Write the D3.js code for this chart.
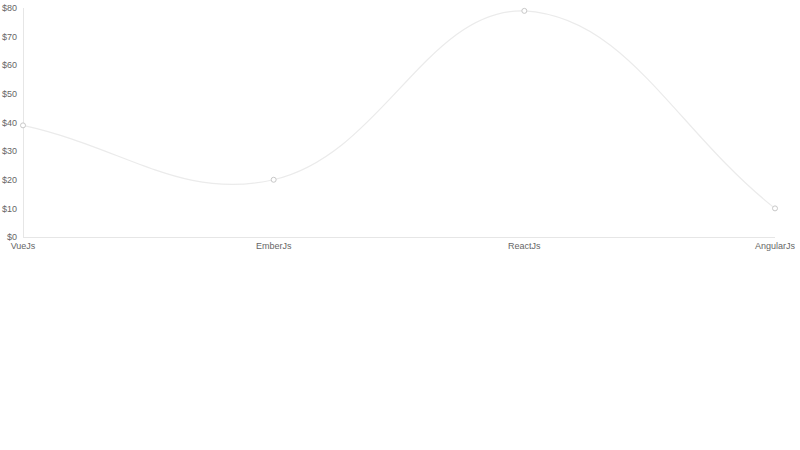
<!DOCTYPE html>
<html><head><meta charset="utf-8">
<script src="https://cdn.jsdelivr.net/npm/d3@7"></script>
<style>body{margin:0;background:#fff}svg{display:block}</style>
</head><body>
<svg id="c" width="800" height="450"></svg>
<script>
const categories = ["VueJs", "EmberJs", "ReactJs", "AngularJs"];
const values = [39, 20, 79, 10];
const yTicks = [0, 10, 20, 30, 40, 50, 60, 70, 80];

(function () {
const svg = d3.select("#c");
const left = 23, right = 775, topY = 8, bottom = 237;
const x = d3.scalePoint().domain(categories).range([left, right]);
const y = d3.scaleLinear().domain([0, 80]).range([bottom, topY]);
const font = "Liberation Sans, Arial, sans-serif";

svg.append("line").attr("x1", left + 0.5).attr("x2", left + 0.5).attr("y1", topY).attr("y2", bottom)
  .attr("stroke", "#e6e6e6").attr("stroke-width", 1);
svg.append("line").attr("x1", left).attr("x2", right).attr("y1", bottom + 0.5).attr("y2", bottom + 0.5)
  .attr("stroke", "#e6e6e6").attr("stroke-width", 1);

svg.append("g").selectAll("text").data(yTicks).join("text")
  .attr("x", 17).attr("y", d => y(d)).attr("dy", "0.35em")
  .attr("text-anchor", "end").attr("font-family", font).attr("font-size", 9)
  .attr("fill", "#666").text(d => "$" + d);

svg.append("g").selectAll("text").data(categories).join("text")
  .attr("x", d => x(d)).attr("y", 246).attr("dy", "0.35em")
  .attr("text-anchor", "middle").attr("font-family", font).attr("font-size", 9)
  .attr("fill", "#666").text(d => d);

const pts = categories.map((c, i) => ({x: x(c), y: y(values[i])}));
const t = 0.4;
const clampY = v => Math.max(topY, Math.min(bottom, v));
const cps = pts.map((p, i) => {
  const prev = pts[Math.max(0, i - 1)], next = pts[Math.min(pts.length - 1, i + 1)];
  const d01 = Math.hypot(p.x - prev.x, p.y - prev.y);
  const d12 = Math.hypot(next.x - p.x, next.y - p.y);
  let s01 = d01 / (d01 + d12), s12 = d12 / (d01 + d12);
  if (isNaN(s01)) s01 = 0; if (isNaN(s12)) s12 = 0;
  const fa = t * s01, fb = t * s12;
  return {
    px: p.x - fa * (next.x - prev.x), py: clampY(p.y - fa * (next.y - prev.y)),
    nx: p.x + fb * (next.x - prev.x), ny: clampY(p.y + fb * (next.y - prev.y))
  };
});
const path = d3.path();
path.moveTo(pts[0].x, pts[0].y);
for (let i = 1; i < pts.length; i++) {
  path.bezierCurveTo(cps[i-1].nx, cps[i-1].ny, cps[i].px, cps[i].py, pts[i].x, pts[i].y);
}
svg.append("path").attr("d", path.toString()).attr("fill", "none")
  .attr("stroke", "#ebebeb").attr("stroke-width", 1.2);

svg.append("g").selectAll("circle").data(pts).join("circle")
  .attr("cx", d => d.x).attr("cy", d => d.y).attr("r", 2.5)
  .attr("fill", "#fff").attr("stroke", "#c8c8c8").attr("stroke-width", 1);
})();
</script>
</body></html>
